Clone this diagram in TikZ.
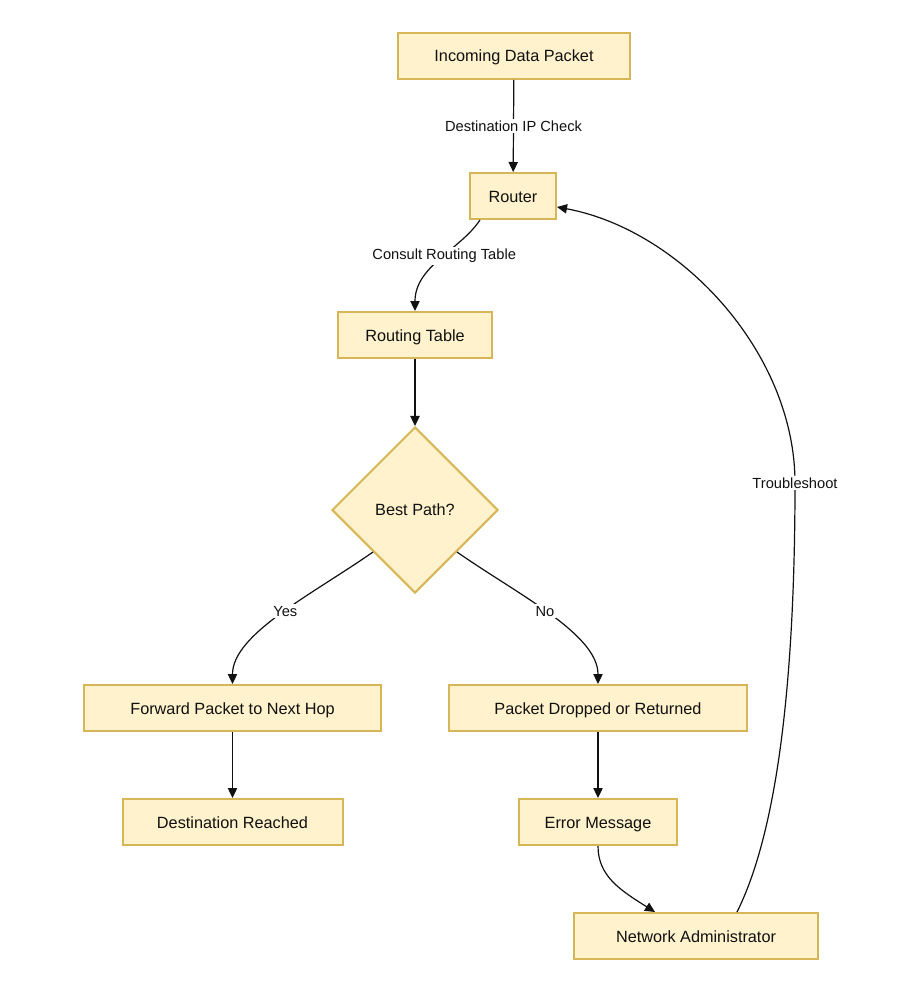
\documentclass[tikz,border=0pt]{standalone}
\usepackage{fontspec}
\setmainfont{Liberation Sans}
\usepackage{xcolor}
\usetikzlibrary{arrows.meta,positioning,calc,shapes.geometric}
\definecolor{relleno}{HTML}{FFF2CC}
\definecolor{borde}{HTML}{D6B656}
\definecolor{tinta}{HTML}{111111}

\begin{document}
\begin{tikzpicture}[x=0.75pt,y=-0.75pt,
    caja/.style={draw=borde,fill=relleno,line width=1.5pt,minimum height=34.5pt,
                 inner sep=0pt,text height=10.5pt,text depth=1.5pt,
                 font=\fontsize{12.2}{14}\selectfont\color{tinta}},
    rombo/.style={diamond,aspect=1,draw=borde,fill=relleno,line width=1.5pt,
                  minimum width=124.5pt,minimum height=124.5pt,inner sep=0pt,
                  font=\fontsize{12.2}{14}\selectfont\color{tinta}},
    etiq/.style={fill=white,inner sep=1.5pt,font=\fontsize{11}{12}\selectfont\color{tinta}},
    flecha/.style={-{Triangle[length=7.5pt,width=7pt]},line width=0.9pt,tinta},
    >={Triangle[length=7.5pt,width=7pt]}]
  \useasboundingbox (0,0) rectangle (912,999);

  \node[caja,minimum width=174pt]   (paquete) at (514,56)  {Incoming Data Packet};
  \node[caja,minimum width=64.5pt]  (router)  at (513,196) {Router};
  \node[caja,minimum width=114.8pt] (tabla)   at (415,335) {Routing Table};
  \node[rombo]                      (mejor)   at (415,510) {Best Path?};
  \node[caja,minimum width=222.8pt] (reenvio) at (232.5,708) {Forward Packet to Next Hop};
  \node[caja,minimum width=223.5pt] (descarte) at (598,708) {Packet Dropped or Returned};
  \node[caja,minimum width=165pt]   (destino) at (232.5,822) {Destination Reached};
  \node[caja,minimum width=118.5pt] (error)   at (598,822) {Error Message};
  \node[caja,minimum width=182.3pt] (admin)   at (696,936) {Network Administrator};

  \coordinate (giro) at (795,483);

  \draw[flecha] (paquete) -- node[etiq] (lblIP) {Destination IP Check} (router);
  \draw[flecha] ($(router.south)+(-33,0)$) .. controls +(-20,30) and +(0,-45) ..
    node[etiq,pos=0.45] (lblTabla) {Consult Routing Table} (tabla.north);
  \draw[flecha] (tabla) -- (mejor);
  \draw[flecha] (mejor.south west) .. controls +(-60,42) and +(0,-50) ..
    node[etiq,pos=0.47] (lblSi) {Yes} (reenvio.north);
  \draw[flecha] (mejor.south east) .. controls +(60,42) and +(0,-50) ..
    node[etiq,pos=0.47] (lblNo) {No} (descarte.north);
  \draw[flecha] (reenvio) -- (destino);
  \draw[flecha] (descarte) -- (error);
  \draw[flecha] (error.south) .. controls +(0,30) and +(-35,-22) .. ($(admin.north)+(-41,0)$);

  % vuelta al router
  \draw[flecha] ($(admin.north)+(41,0)$) .. controls +(40,-80) and +(0,200) .. (giro)
    .. controls +(0,-130) and +(124,23) .. ($(router.east)+(0,11)$);
  \node[etiq] (lblFallo) at (giro) {Troubleshoot};
\end{tikzpicture}
\end{document}
